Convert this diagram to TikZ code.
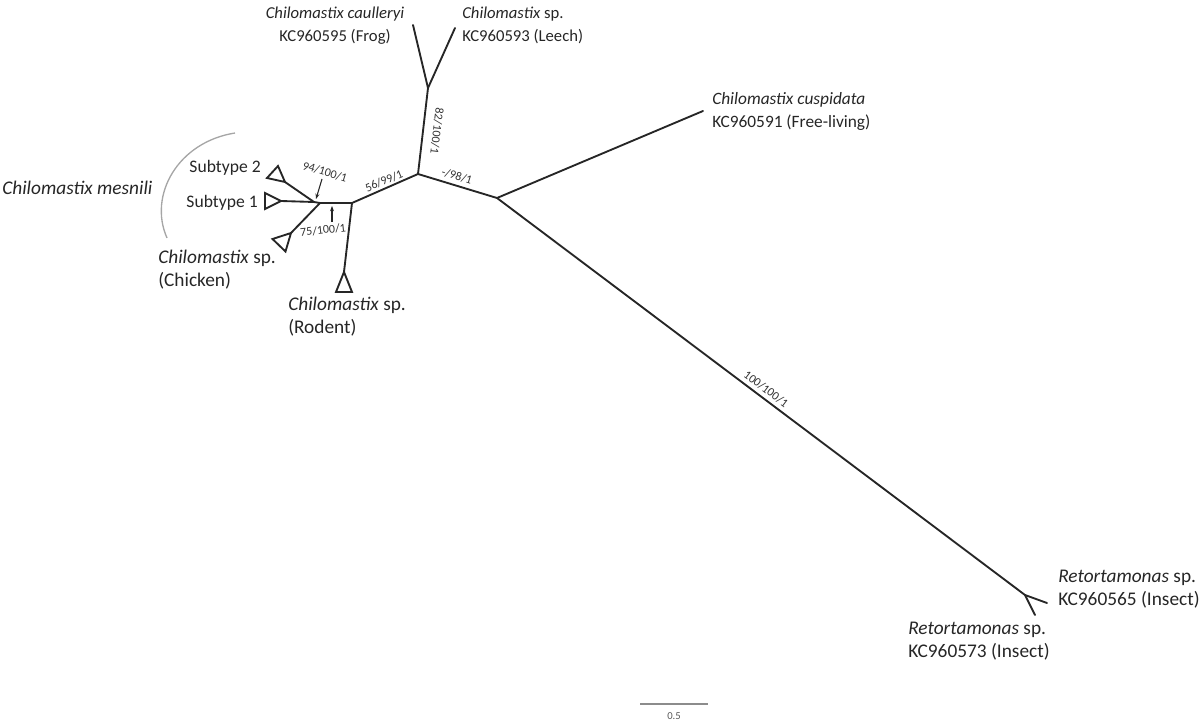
\documentclass[tikz,border=0pt]{standalone}
\usepackage{fontspec}
\setmainfont{Carlito}
\usetikzlibrary{arrows.meta}
\begin{document}
\begin{tikzpicture}[x=0.75pt,y=-0.75pt,
  branch/.style={line width=1.4pt, black!85, line cap=round, line join=round},
  tri/.style={line width=1.4pt, black!85, line join=miter},
  taxon/.style={inner sep=0pt, font=\fontsize{12.5}{17.25}\selectfont, text=black!85, align=left},
  bigtaxon/.style={taxon, font=\fontsize{14.5}{17.25}\selectfont},
  subtaxon/.style={taxon, font=\fontsize{13.2}{17.25}\selectfont},
  support/.style={inner sep=0pt, font=\fontsize{9}{10}\selectfont, text=black!80},
  pointer/.style={line width=0.8pt, black!85, -{Stealth[length=4pt,width=3pt]}},
  bracket/.style={line width=1pt, black!35},
  scalebar/.style={line width=1.6pt, black!45}
]
\useasboundingbox (0,0) rectangle (1200,723);

% internal nodes
\coordinate (A) at (352,203);
\coordinate (D) at (320,203);
\coordinate (S) at (314,202);
\coordinate (E) at (418,174);
\coordinate (F) at (428,88);
\coordinate (G) at (497,198);
\coordinate (H) at (1025,595);
% tips
\coordinate (frog) at (413,25);
\coordinate (leech) at (455,28);
\coordinate (cusp) at (703,111);
\coordinate (ret1) at (1047,603);
\coordinate (ret2) at (1035,615);
\coordinate (st2) at (285,182);
\coordinate (st1) at (281,201);
\coordinate (chick) at (291,233);
\coordinate (rod) at (344,272);

% branches
\draw[branch] (S) -- (D) -- (A) -- (E) -- (G) -- (H);
\draw[branch] (E) -- (F);
\draw[branch] (F) -- (frog);
\draw[branch] (F) -- (leech);
\draw[branch] (G) -- (cusp);
\draw[branch] (H) -- (ret1);
\draw[branch] (H) -- (ret2);
\draw[branch] (S) -- (st2);
\draw[branch] (S) -- (st1);
\draw[branch] (D) -- (chick);
\draw[branch] (A) -- (rod);

% collapsed clades
\draw[tri] (st2) -- (278,166) -- (267,178) -- cycle;
\draw[tri] (st1) -- (265,193) -- (265,209) -- cycle;
\draw[tri] (chick) -- (285.5,251.5) -- (272.5,239) -- cycle;
\draw[tri] (rod) -- (336,292) -- (352,292) -- cycle;

% support values
\node[support, rotate=-17] (s94) at (325,172) {94/100/1};
\node[support, rotate=6] (s75) at (323,230) {75/100/1};
\node[support, rotate=23] (s56) at (384,181) {56/99/1};
\node[support, rotate=-97] (s82) at (437,131) {82/100/1};
\node[support, rotate=-17] (s98) at (457,176) {-/98/1};
\node[support, rotate=-37] (s100) at (766,389) {100/100/1};

\coordinate (p94) at (322,179);
\coordinate (q94) at (316,199);
\coordinate (p75) at (332,222);
\coordinate (q75) at (332,206);
\draw[pointer] (p94) -- (q94);
\draw[pointer] (p75) -- (q75);

% taxon labels
\node[taxon, align=center] (caul) at (335,25.5) {\textit{Chilomastix caulleryi}\\KC960595 (Frog)};
\node[taxon, anchor=west] (lee) at (462,25.5) {\textit{Chilomastix} sp.\\KC960593 (Leech)};
\node[taxon, anchor=west, font=\fontsize{13}{17.25}\selectfont] (cus) at (712,111.5) {\textit{Chilomastix cuspidata}\\KC960591 (Free-living)};
\node[bigtaxon, anchor=west] (r1) at (1058,589.5) {\textit{Retortamonas} sp.\\KC960565 (Insect)};
\node[bigtaxon, anchor=west] (r2) at (908,641.5) {\textit{Retortamonas} sp.\\KC960573 (Insect)};
\node[bigtaxon, anchor=west] (mes) at (2,188) {\textit{Chilomastix mesnili}};
\node[subtaxon, anchor=east] (sub2) at (261,168) {Subtype 2};
\node[subtaxon, anchor=east] (sub1) at (258,203) {Subtype 1};
\node[bigtaxon, anchor=west] (chk) at (158,269.5) {\textit{Chilomastix} sp.\\(Chicken)};
\node[bigtaxon, anchor=west] (rdt) at (288,316.5) {\textit{Chilomastix} sp.\\(Rodent)};

% mesnili bracket
\coordinate (b1) at (235,133);
\coordinate (b2) at (167,238);
\draw[bracket] (b1) .. controls (178,142) and (148,195) .. (b2);

% scale bar
\coordinate (sb1) at (640,704);
\coordinate (sb2) at (708,704);
\draw[scalebar] (sb1) -- (sb2);
\node[inner sep=0pt, font=\fontsize{8}{9}\selectfont, text=black!65] (sbl) at (674,716) {0.5};
\end{tikzpicture}
\end{document}
